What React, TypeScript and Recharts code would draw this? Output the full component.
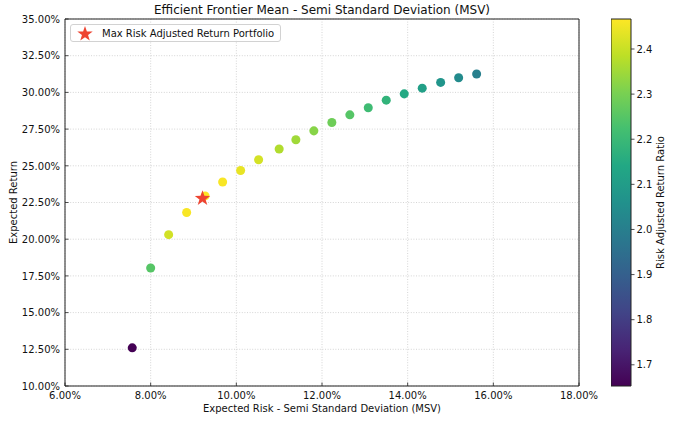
import React from 'react';
import {
  ScatterChart,
  Scatter,
  ComposedChart,
  XAxis,
  YAxis,
  ZAxis,
  CartesianGrid,
  ReferenceArea,
  Cell,
  Legend,
} from 'recharts';

// frontier portfolios (values in %)
const riskPct = [7.57, 8.0, 8.42, 8.84, 9.27, 9.68, 10.1, 10.52, 11.0, 11.39, 11.81, 12.23, 12.65, 13.08, 13.5, 13.92, 14.34, 14.77, 15.19, 15.61];
const returnPct = [12.6, 18.04, 20.31, 21.82, 22.95, 23.9, 24.68, 25.41, 26.14, 26.77, 27.38, 27.95, 28.47, 28.95, 29.47, 29.9, 30.29, 30.68, 31.0, 31.25];
const ratio = [1.653, 2.25, 2.41, 2.46, 2.466, 2.46, 2.44, 2.415, 2.37, 2.35, 2.32, 2.285, 2.25, 2.21, 2.18, 2.145, 2.11, 2.075, 2.04, 2.0];

// max risk adjusted return portfolio
const starRisk = [9.21];
const starReturn = [22.78];

const xTicks = [6, 8, 10, 12, 14, 16, 18];
const yTicks = [10, 12.5, 15, 17.5, 20, 22.5, 25, 27.5, 30, 32.5, 35];
const cbarTicks = [1.7, 1.8, 1.9, 2.0, 2.1, 2.2, 2.3, 2.4];
const cbarMin = 1.653;
const cbarMax = 2.4665;

const viridis = ['#440154', '#482475', '#414487', '#355f8d', '#2a788e', '#21918c', '#22a884', '#44bf70', '#7ad151', '#bddf26', '#fde725'];

const hexToRgb = (h: string) => [1, 3, 5].map((i) => parseInt(h.slice(i, i + 2), 16));

const colorFor = (v: number) => {
  const t = Math.min(1, Math.max(0, (v - cbarMin) / (cbarMax - cbarMin))) * (viridis.length - 1);
  const i = Math.min(viridis.length - 2, Math.floor(t));
  const f = t - i;
  const a = hexToRgb(viridis[i]);
  const b = hexToRgb(viridis[i + 1]);
  const c = a.map((v0, k) => Math.round(v0 + (b[k] - v0) * f));
  return `rgb(${c[0]},${c[1]},${c[2]})`;
};

const frontier = riskPct.map((r, i) => ({ risk: r, ret: returnPct[i], ratio: ratio[i] }));
const maxPortfolio = starRisk.map((r, i) => ({ risk: r, ret: starReturn[i] }));

const FONT = '"DejaVu Sans", sans-serif';
const STAR_RED = '#ee4431';

const starPoints = (cx: number, cy: number, R: number, r: number) => {
  const pts: string[] = [];
  for (let k = 0; k < 10; k++) {
    const rad = k % 2 === 0 ? R : r;
    const a = -Math.PI / 2 + (k * Math.PI) / 5;
    pts.push(`${cx + rad * Math.cos(a)},${cy + rad * Math.sin(a)}`);
  }
  return pts.join(' ');
};

const StarShape = (props: any) => {
  const { cx, cy } = props;
  return <polygon points={starPoints(cx, cy, 8.1, 3.2)} fill={STAR_RED} />;
};

const fmtPct = (v: number) => `${v.toFixed(2)}%`;

const XTick = ({ x, y, payload }: any) => (
  <g>
    <line x1={x} x2={x} y1={y} y2={y - 3.5} stroke="#222" strokeWidth={0.8} />
    <text x={x} y={y + 12.7} textAnchor="middle" fontSize={10} fontFamily={FONT} fill="#111">
      {fmtPct(payload.value)}
    </text>
  </g>
);

const YTick = ({ x, y, payload }: any) => (
  <g>
    <line x1={x} x2={x + 3.5} y1={y} y2={y} stroke="#222" strokeWidth={0.8} />
    <text x={x - 5} y={y + 3.7} textAnchor="end" fontSize={10} fontFamily={FONT} fill="#111">
      {fmtPct(payload.value)}
    </text>
  </g>
);

const CbarTick = ({ x, y, payload }: any) => (
  <g>
    <line x1={x} x2={x + 3.5} y1={y} y2={y} stroke="#222" strokeWidth={0.8} />
    <text x={x + 5.5} y={y + 3.7} textAnchor="start" fontSize={10} fontFamily={FONT} fill="#111">
      {payload.value.toFixed(1)}
    </text>
  </g>
);

const LegendBox = () => (
  <div
    style={{
      display: 'flex',
      alignItems: 'center',
      height: 18,
      paddingRight: 6,
      border: '1px solid #d2d2d2',
      borderRadius: 3,
      background: 'rgba(255,255,255,0.8)',
      fontFamily: FONT,
      fontSize: 10,
      color: '#111',
      boxSizing: 'border-box',
    }}
  >
    <svg width={30} height={17}>
      <polygon points={starPoints(14, 9, 8.1, 3.2)} fill={STAR_RED} />
    </svg>
    <span style={{ marginLeft: 1, whiteSpace: 'nowrap' }}>Max Risk Adjusted Return Portfolio</span>
  </div>
);

const App: React.FC = () => {
  return (
    <div style={{ position: 'absolute', left: 0, top: 0, width: 678, height: 424, background: '#fff', fontFamily: FONT }}>
      <div
        style={{
          position: 'absolute',
          left: 65,
          width: 514,
          top: 3,
          textAlign: 'center',
          fontSize: 12,
          color: '#111',
        }}
      >
        Efficient Frontier Mean - Semi Standard Deviation (MSV)
      </div>

      <div style={{ position: 'absolute', left: 0, top: 0 }}>
        <ScatterChart width={600} height={424} margin={{ top: 19, right: 21, bottom: 0, left: 0 }}>
          <CartesianGrid stroke="#cacaca" strokeDasharray="1 1.6" strokeWidth={0.8} />
          <XAxis
            type="number"
            dataKey="risk"
            domain={[6, 18]}
            ticks={xTicks}
            allowDataOverflow
            height={38}
            axisLine={false}
            tickLine={false}
            tickSize={0}
            tickMargin={0}
            tick={<XTick />}
            label={({ viewBox }: any) => (
              <text
                x={viewBox.x + viewBox.width / 2}
                y={412}
                textAnchor="middle"
                fontSize={10}
                fontFamily={FONT}
                fill="#111"
              >
                Expected Risk - Semi Standard Deviation (MSV)
              </text>
            )}
          />
          <YAxis
            type="number"
            dataKey="ret"
            domain={[10, 35]}
            ticks={yTicks}
            allowDataOverflow
            width={65}
            axisLine={false}
            tickLine={false}
            tickSize={0}
            tickMargin={0}
            tick={<YTick />}
            label={({ viewBox }: any) => {
              const cy = viewBox.y + viewBox.height / 2;
              return (
                <text
                  x={17}
                  y={cy}
                  transform={`rotate(-90, 17, ${cy})`}
                  textAnchor="middle"
                  fontSize={10}
                  fontFamily={FONT}
                  fill="#111"
                >
                  Expected Return
                </text>
              );
            }}
          />
          <ZAxis range={[36, 36]} />
          <Legend
            layout="horizontal"
            verticalAlign="middle"
            align="center"
            wrapperStyle={{ top: 24, left: 70, width: 'auto', height: 'auto' }}
            content={<LegendBox />}
          />
          <Scatter data={frontier} isAnimationActive={false} legendType="none">
            {frontier.map((d, i) => (
              <Cell key={i} fill={colorFor(d.ratio)} />
            ))}
          </Scatter>
          <Scatter
            data={maxPortfolio}
            name="Max Risk Adjusted Return Portfolio"
            isAnimationActive={false}
            shape={<StarShape />}
            fill={STAR_RED}
          />
          <ReferenceArea x1={6} x2={18} y1={10} y2={35} fill="none" stroke="#222" strokeWidth={1} />
        </ScatterChart>
      </div>

      {/* colour bar */}
      <div style={{ position: 'absolute', left: 611, top: 0 }}>
        <ComposedChart width={67} height={424} data={[{ x: 0 }, { x: 1 }]} margin={{ top: 19, right: 0, bottom: 38, left: 0 }}>
          <defs>
            <linearGradient id="viridisGrad" x1="0" y1="1" x2="0" y2="0">
              {viridis.map((c, i) => (
                <stop key={i} offset={`${(i / (viridis.length - 1)) * 100}%`} stopColor={c} />
              ))}
            </linearGradient>
          </defs>
          <XAxis type="number" dataKey="x" domain={[0, 1]} hide />
          <YAxis
            type="number"
            orientation="right"
            domain={[cbarMin, cbarMax]}
            ticks={cbarTicks}
            allowDataOverflow
            width={47}
            axisLine={false}
            tickLine={false}
            tickSize={0}
            tickMargin={0}
            tick={<CbarTick />}
            label={({ viewBox }: any) => {
              const cy = viewBox.y + viewBox.height / 2;
              const lx = 664 - 611;
              return (
                <text
                  x={lx}
                  y={cy}
                  transform={`rotate(-90, ${lx}, ${cy})`}
                  textAnchor="middle"
                  fontSize={10}
                  fontFamily={FONT}
                  fill="#111"
                >
                  Risk Adjusted Return Ratio
                </text>
              );
            }}
          />
          <ReferenceArea x1={0} x2={1} y1={cbarMin} y2={cbarMax} fill="url(#viridisGrad)" fillOpacity={1} stroke="#222" strokeWidth={1} />
        </ComposedChart>
      </div>
    </div>
  );
};

export default App;
